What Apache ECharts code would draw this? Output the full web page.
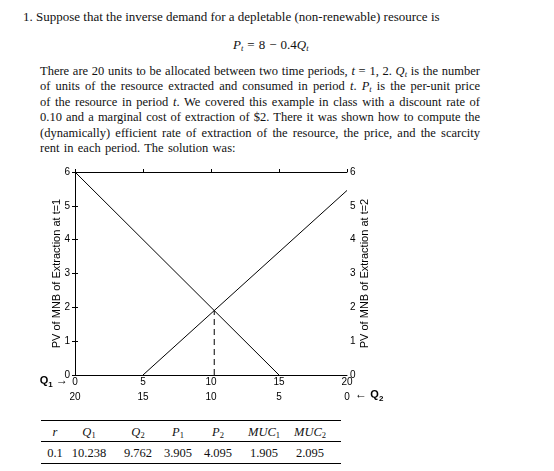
<!DOCTYPE html>
<html>
<head>
<meta charset="utf-8">
<script src="https://cdn.jsdelivr.net/npm/echarts@6/dist/echarts.min.js"></script>
<style>
  html, body { margin:0; padding:0; background:#fff; }
  body { width:554px; height:471px; position:relative; overflow:hidden;
         font-family:"Liberation Serif","DejaVu Serif",serif; font-size:12.5px; color:#111; }
  .ln { position:absolute; white-space:nowrap; line-height:15px; }
  .j { text-align:justify; text-align-last:justify; white-space:normal; }
  i { font-style:italic; }
  sub { font-size:8.5px; vertical-align:-2px; line-height:0; }
  .op { display:inline-block; width:4px; }
  #chart { position:absolute; left:0; top:160px; width:554px; height:252px; }
  .rule { position:absolute; left:41px; width:300px; height:0; border-top:1px solid #000; }
  .cell { position:absolute; width:70px; text-align:center; font-size:12.5px; line-height:14px; }
</style>
</head>
<body>
<div class="ln" style="left:23px;top:9px;font-size:13px;">1. Suppose that the inverse demand for a depletable (non-renewable) resource is</div>
<div class="ln" style="left:233px;top:37px;font-size:13px;"><i>P<sub>t</sub></i><span class="op"></span>=<span class="op"></span>8<span class="op"></span>−<span class="op"></span>0.4<i>Q<sub>t</sub></i></div>
<div class="ln j" style="left:40px;top:64px;width:440px;">There are 20 units to be allocated between two time periods, <i>t</i> = 1, 2. <i>Q<sub>t</sub></i> is the number</div>
<div class="ln j" style="left:40px;top:79px;width:440px;">of units of the resource extracted and consumed in period <i>t</i>. <i>P<sub>t</sub></i> is the per-unit price</div>
<div class="ln j" style="left:40px;top:95px;width:440px;">of the resource in period <i>t</i>. We covered this example in class with a discount rate of</div>
<div class="ln j" style="left:40px;top:110px;width:440px;">0.10 and a marginal cost of extraction of $2. There it was shown how to compute the</div>
<div class="ln j" style="left:40px;top:126px;width:440px;">(dynamically) efficient rate of extraction of the resource, the price, and the scarcity</div>
<div class="ln" style="left:40px;top:141px;word-spacing:1.2px;">rent in each period. The solution was:</div>

<div id="chart"></div>

<div id="tbl"></div>

<script>
// ---- data ----
const q1Ticks = ['0', '5', '10', '15', '20'];
const q2Ticks = ['20', '15', '10', '5', '0'];
const yTicks = ['0', '1', '2', '3', '4', '5', '6'];
const mnbPeriod1 = [[0, 6], [15, 0]];
const mnbPeriod2 = [[5, 0], [20, 5.455]];
const equilibrium = [[10.238, 0], [10.238, 1.905]];
const tableHeader = ['<i>r</i>', '<i>Q</i><sub>1</sub>', '<i>Q</i><sub>2</sub>', '<i>P</i><sub>1</sub>', '<i>P</i><sub>2</sub>', '<i>MUC</i><sub>1</sub>', '<i>MUC</i><sub>2</sub>'];
const tableValues = ['0.1', '10.238', '9.762', '3.905', '4.095', '1.905', '2.095'];

// ---- table layout ----
const colCenters = [55, 89, 138, 178, 218, 264, 310];
const ruleTops = [420, 441, 463];
const rowTops = [425, 446];
const tbl = document.getElementById('tbl');
let html = ruleTops.map(t => '<div class="rule" style="top:' + t + 'px"></div>').join('');
[tableHeader, tableValues].forEach((row, r) => {
  row.forEach((txt, c) => {
    html += '<div class="cell" style="left:' + (colCenters[c] - 35) + 'px;top:' + rowTops[r] + 'px">' + txt + '</div>';
  });
});
tbl.innerHTML = html;

// ---- chart ----
const chart = echarts.init(document.getElementById('chart'));
const sans = 'Liberation Sans';
const tickFont = { color: '#000', fontSize: 10, fontFamily: sans };
const nameRich = {
  b: { fontWeight: 'bold', fontSize: 11, fontFamily: sans, color: '#000', lineHeight: 14, verticalAlign: 'top' },
  s: { fontWeight: 'bold', fontSize: 8, fontFamily: sans, color: '#000', lineHeight: 14, verticalAlign: 'bottom' },
  a: { fontSize: 12, fontFamily: sans, color: '#000', lineHeight: 14, verticalAlign: 'top' }
};
const xBase = { type: 'value', min: 0, max: 20, interval: 5, splitLine: { show: false } };
const yBase = { type: 'value', min: 0, max: 6, interval: 1, splitLine: { show: false } };

chart.setOption({
  animation: false,
  grid: { left: 75, width: 272, top: 12, height: 203 },
  xAxis: [
    Object.assign({}, xBase, {
      position: 'bottom',
      axisLine: { lineStyle: { color: '#000', width: 1 } },
      axisTick: { show: false },
      axisLabel: Object.assign({ margin: 2, formatter: v => q1Ticks[v / 5] }, tickFont),
      name: '{b|Q}{s|1}{a| →}', nameLocation: 'start', nameGap: 7, nameMoveOverlap: false,
      nameTextStyle: { verticalAlign: 'top', rich: nameRich }
    }),
    Object.assign({}, xBase, {
      position: 'bottom', offset: 15,
      axisLine: { show: false }, axisTick: { show: false },
      axisLabel: Object.assign({ margin: 2, formatter: v => q2Ticks[v / 5] }, tickFont),
      name: '{a|← }{b|Q}{s|2}', nameLocation: 'end', nameGap: 8, nameMoveOverlap: false,
      nameTextStyle: { verticalAlign: 'top', padding: [14, 0, 0, 0], rich: nameRich }
    }),
    Object.assign({}, xBase, {
      position: 'top',
      axisLine: { lineStyle: { color: '#000', width: 1 } },
      axisTick: { show: true, inside: false, length: 3, lineStyle: { color: '#000' } },
      axisLabel: { show: false }
    })
  ],
  yAxis: [
    Object.assign({}, yBase, {
      position: 'left',
      axisLine: { show: true, lineStyle: { color: '#000', width: 1 } },
      axisTick: { show: true, length: 3, lineStyle: { color: '#000' } },
      axisLabel: Object.assign({ margin: 5, formatter: v => yTicks[v] }, tickFont),
      name: 'PV of MNB of Extraction at t=1', nameLocation: 'middle', nameRotate: 90, nameGap: 13, nameMoveOverlap: false,
      nameTextStyle: { color: '#000', fontSize: 11, fontFamily: sans }
    }),
    Object.assign({}, yBase, {
      position: 'right',
      axisLine: { show: true, lineStyle: { color: '#000', width: 1 } },
      axisTick: { show: true, length: 3, lineStyle: { color: '#000' } },
      axisLabel: Object.assign({ margin: 3, formatter: v => yTicks[v] }, tickFont),
      name: 'PV of MNB of Extraction at t=2', nameLocation: 'middle', nameRotate: 90, nameGap: 12, nameMoveOverlap: false,
      nameTextStyle: { color: '#000', fontSize: 11, fontFamily: sans }
    })
  ],
  series: [
    { type: 'line', data: mnbPeriod1, showSymbol: false, lineStyle: { color: '#000', width: 1 } },
    { type: 'line', data: mnbPeriod2, showSymbol: false, lineStyle: { color: '#000', width: 1 } },
    { type: 'line', data: equilibrium, showSymbol: false, lineStyle: { color: '#000', width: 1, type: [6, 4] } }
  ]
});
</script>
</body>
</html>
